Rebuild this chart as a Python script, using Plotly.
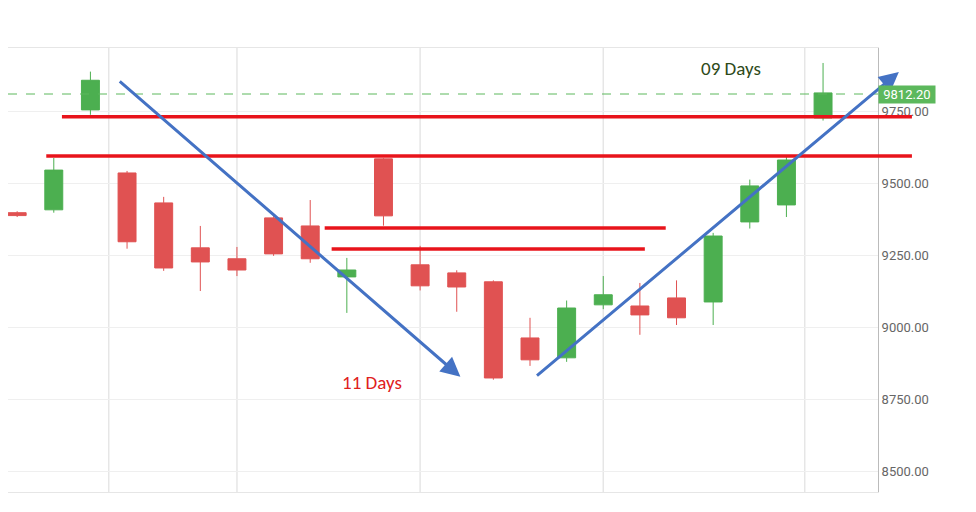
import plotly.graph_objects as go

# candle data (index position, open, high, low, close)
idx = list(range(23))
opens = [9400, 9410, 9757, 9538, 9434, 9278, 9240, 9382, 9354, 9177, 9587, 9219,
         9191, 9160, 8965, 8896, 9080, 9076, 9104, 9090, 9368, 9427, 9729]
highs = [9405, 9590, 9890, 9545, 9455, 9354, 9281, 9388, 9444, 9243, 9590, 9285,
         9200, 9165, 9035, 9095, 9180, 9156, 9165, 9330, 9515, 9600, 9920]
lows = [9385, 9400, 9740, 9275, 9198, 9128, 9180, 9250, 9226, 9052, 9355, 9130,
        9056, 8820, 8868, 8882, 9065, 8976, 9010, 9010, 9345, 9385, 9720]
closes = [9390, 9548, 9860, 9299, 9208, 9229, 9201, 9257, 9240, 9201, 9389, 9146,
          9142, 8826, 8889, 9069, 9115, 9045, 9035, 9319, 9493, 9583, 9816]

last_price = 9812.20
y_ticks = [8500, 8750, 9000, 9250, 9500, 9750]
x_grid = [2.5, 6.0, 11.0, 16.0, 21.5]

# support / resistance levels: (x0, x1, level) x in paper units
levels = [(0.062, 1.039, 9733), (0.044, 1.039, 9597),
          (0.364, 0.756, 9347), (0.372, 0.732, 9274)]

# trend arrows: (x0, y0, x1, y1)
arrows = [(2.76, 9861, 12.1, 8830), (14.15, 8830, 24.07, 9889)]

fig = go.Figure(go.Candlestick(
    x=idx, open=opens, high=highs, low=lows, close=closes,
    increasing=dict(line=dict(color='#4caf50', width=1), fillcolor='#4caf50'),
    decreasing=dict(line=dict(color='#e05252', width=1), fillcolor='#e05252'),
    whiskerwidth=0, showlegend=False))

for gx in x_grid:
    fig.add_vline(x=gx, line=dict(color='#e6e6e6', width=1.5), layer='below')
fig.add_hline(y=last_price, line=dict(color='#5cb85c', width=1, dash='dash'))

for x0, x1, lv in levels:
    fig.add_shape(type='line', xref='paper', x0=x0, x1=x1, y0=lv, y1=lv,
                  line=dict(color='#e8141b', width=3.5))

for x0, y0, x1, y1 in arrows:
    fig.add_annotation(x=x1, y=y1, ax=x0, ay=y0, xref='x', yref='y',
                       axref='x', ayref='y', showarrow=True, arrowhead=2,
                       arrowsize=1.3, arrowwidth=3, arrowcolor='#4472c4', text='')

fig.add_annotation(x=9.7, y=8810, text='11 Days', showarrow=False,
                   font=dict(color='#e02020', size=19, family='Calibri, Liberation Sans'))
fig.add_annotation(x=19.5, y=9900, text='09 Days', showarrow=False,
                   font=dict(color='#2e4a1a', size=19, family='Calibri, Liberation Sans'))
fig.add_annotation(xref='paper', x=1.0, y=last_price, xanchor='left',
                   text=' %.2f ' % last_price, showarrow=False, bgcolor='#5cb85c',
                   font=dict(color='white', size=13, family='Roboto'))

fig.update_layout(
    width=976, height=512, plot_bgcolor='white', paper_bgcolor='white',
    margin=dict(l=0, r=106, t=40, b=28),
    xaxis=dict(range=[-0.25, 23.5], showticklabels=False, showgrid=False,
               rangeslider=dict(visible=False), zeroline=False,
               showline=True, linecolor='#e6e6e6', mirror=True),
    yaxis=dict(range=[8430, 9972], side='right', tickvals=y_ticks,
               ticktext=['%.2f' % v for v in y_ticks], gridcolor='#efefef',
               showline=True, linecolor='#bbbbbb', ticks='',
               tickfont=dict(color='#666666', size=13, family='Roboto')),
)

fig.write_html("out.html")
